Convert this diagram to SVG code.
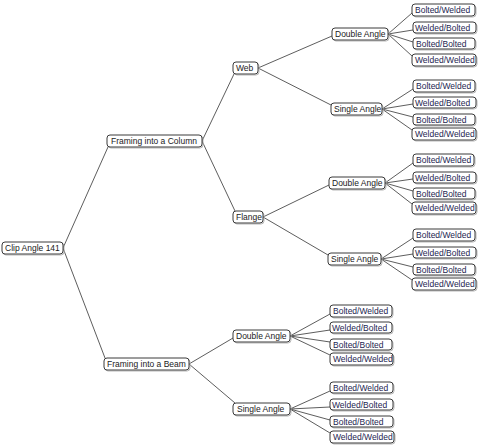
<svg xmlns="http://www.w3.org/2000/svg" width="480" height="447" viewBox="0 0 480 447">
<style>
.bx{fill:#fff;stroke:#3a3a3a;stroke-width:1}
.sh{fill:none;stroke:#b8b8b8;stroke-width:1}
.t{font-family:"Liberation Sans",Arial,sans-serif;font-size:8.5px;fill:#1a1a1a}
.lf .t{fill:#1c2550}
.c line{stroke:#333;stroke-width:0.8}
</style>
<rect width="480" height="447" fill="#fff"/>
<g class="c">
<line x1="63" y1="248" x2="108" y2="147"/>
<line x1="63" y1="248" x2="105" y2="358"/>
<line x1="202" y1="141" x2="234" y2="74"/>
<line x1="202" y1="141" x2="235" y2="211"/>
<line x1="258" y1="68" x2="332" y2="36"/>
<line x1="258" y1="68" x2="331" y2="105"/>
<line x1="263" y1="217" x2="329" y2="185"/>
<line x1="263" y1="217" x2="328" y2="255"/>
<line x1="189" y1="364" x2="233" y2="338"/>
<line x1="189" y1="364" x2="235" y2="403"/>
<line x1="388" y1="34" x2="412" y2="13"/>
<line x1="388" y1="34" x2="413" y2="30"/>
<line x1="388" y1="34" x2="413" y2="42"/>
<line x1="388" y1="34" x2="412" y2="56"/>
<line x1="382" y1="109" x2="413" y2="89"/>
<line x1="382" y1="109" x2="413" y2="104"/>
<line x1="382" y1="109" x2="413" y2="117"/>
<line x1="382" y1="109" x2="412" y2="130"/>
<line x1="385" y1="183" x2="413" y2="163"/>
<line x1="385" y1="183" x2="413" y2="179"/>
<line x1="385" y1="183" x2="413" y2="191"/>
<line x1="385" y1="183" x2="412" y2="204"/>
<line x1="381" y1="259" x2="413" y2="238"/>
<line x1="381" y1="259" x2="413" y2="254"/>
<line x1="381" y1="259" x2="413" y2="267"/>
<line x1="381" y1="259" x2="412" y2="280"/>
<line x1="290" y1="336" x2="330" y2="314"/>
<line x1="290" y1="336" x2="330" y2="330"/>
<line x1="290" y1="336" x2="330" y2="342"/>
<line x1="290" y1="336" x2="330" y2="355"/>
<line x1="290" y1="409" x2="330" y2="391"/>
<line x1="290" y1="409" x2="330" y2="407"/>
<line x1="290" y1="409" x2="330" y2="420"/>
<line x1="290" y1="409" x2="330" y2="433"/>
</g>
<g id="root"><rect class="sh" x="3" y="243" width="61" height="12" rx="3"/><rect class="bx" x="2" y="242" width="61" height="12" rx="3"/><text class="t" x="5" y="251">Clip Angle 141</text></g>
<g id="col"><rect class="sh" x="108" y="136" width="95" height="12" rx="3"/><rect class="bx" x="107" y="135" width="95" height="12" rx="3"/><text class="t" x="111" y="144">Framing into a Column</text></g>
<g id="beam"><rect class="sh" x="105" y="359" width="85" height="12" rx="3"/><rect class="bx" x="104" y="358" width="85" height="12" rx="3"/><text class="t" x="107" y="367">Framing into a Beam</text></g>
<g id="web"><rect class="sh" x="234" y="63" width="25" height="12" rx="3"/><rect class="bx" x="233" y="62" width="25" height="12" rx="3"/><text class="t" x="236" y="71">Web</text></g>
<g id="flange"><rect class="sh" x="234" y="212" width="30" height="12" rx="3"/><rect class="bx" x="233" y="211" width="30" height="12" rx="3"/><text class="t" x="236" y="220">Flange</text></g>
<g id="web-double"><rect class="sh" x="333" y="29" width="56" height="12" rx="3"/><rect class="bx" x="332" y="28" width="56" height="12" rx="3"/><text class="t" x="335" y="37">Double Angle</text></g>
<g id="web-single"><rect class="sh" x="332" y="104" width="51" height="12" rx="3"/><rect class="bx" x="331" y="103" width="51" height="12" rx="3"/><text class="t" x="334" y="112">Single Angle</text></g>
<g id="flange-double"><rect class="sh" x="330" y="178" width="56" height="12" rx="3"/><rect class="bx" x="329" y="177" width="56" height="12" rx="3"/><text class="t" x="332" y="186">Double Angle</text></g>
<g id="flange-single"><rect class="sh" x="329" y="254" width="53" height="12" rx="3"/><rect class="bx" x="328" y="253" width="53" height="12" rx="3"/><text class="t" x="331" y="262">Single Angle</text></g>
<g id="beam-double"><rect class="sh" x="234" y="331" width="57" height="12" rx="3"/><rect class="bx" x="233" y="330" width="57" height="12" rx="3"/><text class="t" x="236" y="339">Double Angle</text></g>
<g id="beam-single"><rect class="sh" x="234" y="404" width="57" height="12" rx="3"/><rect class="bx" x="233" y="403" width="57" height="12" rx="3"/><text class="t" x="237" y="412">Single Angle</text></g>
<g class="lf">
<g id="wd1"><rect class="sh" x="413" y="5" width="63" height="12" rx="3"/><rect class="bx" x="412" y="4" width="63" height="12" rx="3"/><text class="t" x="415" y="13">Bolted/Welded</text></g>
<g id="wd2"><rect class="sh" x="414" y="23" width="63" height="11" rx="3"/><rect class="bx" x="413" y="22" width="63" height="11" rx="3"/><text class="t" x="415" y="31">Welded/Bolted</text></g>
<g id="wd3"><rect class="sh" x="414" y="39" width="62" height="11" rx="3"/><rect class="bx" x="413" y="38" width="62" height="11" rx="3"/><text class="t" x="416" y="47">Bolted/Bolted</text></g>
<g id="wd4"><rect class="sh" x="413" y="55" width="64" height="12" rx="3"/><rect class="bx" x="412" y="54" width="64" height="12" rx="3"/><text class="t" x="415" y="63">Welded/Welded</text></g>
<g id="ws1"><rect class="sh" x="414" y="81" width="62" height="12" rx="3"/><rect class="bx" x="413" y="80" width="62" height="12" rx="3"/><text class="t" x="416" y="89">Bolted/Welded</text></g>
<g id="ws2"><rect class="sh" x="414" y="98" width="63" height="11" rx="3"/><rect class="bx" x="413" y="97" width="63" height="11" rx="3"/><text class="t" x="415" y="106">Welded/Bolted</text></g>
<g id="ws3"><rect class="sh" x="414" y="115" width="62" height="11" rx="3"/><rect class="bx" x="413" y="114" width="62" height="11" rx="3"/><text class="t" x="416" y="123">Bolted/Bolted</text></g>
<g id="ws4"><rect class="sh" x="413" y="129" width="64" height="12" rx="3"/><rect class="bx" x="412" y="128" width="64" height="12" rx="3"/><text class="t" x="415" y="137">Welded/Welded</text></g>
<g id="fd1"><rect class="sh" x="414" y="155" width="61" height="12" rx="3"/><rect class="bx" x="413" y="154" width="61" height="12" rx="3"/><text class="t" x="416" y="163">Bolted/Welded</text></g>
<g id="fd2"><rect class="sh" x="414" y="173" width="63" height="11" rx="3"/><rect class="bx" x="413" y="172" width="63" height="11" rx="3"/><text class="t" x="415" y="181">Welded/Bolted</text></g>
<g id="fd3"><rect class="sh" x="414" y="189" width="62" height="11" rx="3"/><rect class="bx" x="413" y="188" width="62" height="11" rx="3"/><text class="t" x="416" y="197">Bolted/Bolted</text></g>
<g id="fd4"><rect class="sh" x="413" y="203" width="64" height="12" rx="3"/><rect class="bx" x="412" y="202" width="64" height="12" rx="3"/><text class="t" x="415" y="211">Welded/Welded</text></g>
<g id="fs1"><rect class="sh" x="414" y="230" width="62" height="12" rx="3"/><rect class="bx" x="413" y="229" width="62" height="12" rx="3"/><text class="t" x="416" y="238">Bolted/Welded</text></g>
<g id="fs2"><rect class="sh" x="414" y="248" width="63" height="11" rx="3"/><rect class="bx" x="413" y="247" width="63" height="11" rx="3"/><text class="t" x="415" y="256">Welded/Bolted</text></g>
<g id="fs3"><rect class="sh" x="414" y="265" width="62" height="11" rx="3"/><rect class="bx" x="413" y="264" width="62" height="11" rx="3"/><text class="t" x="416" y="273">Bolted/Bolted</text></g>
<g id="fs4"><rect class="sh" x="413" y="279" width="64" height="12" rx="3"/><rect class="bx" x="412" y="278" width="64" height="12" rx="3"/><text class="t" x="415" y="287">Welded/Welded</text></g>
<g id="bd1"><rect class="sh" x="331" y="306" width="62" height="12" rx="3"/><rect class="bx" x="330" y="305" width="62" height="12" rx="3"/><text class="t" x="333" y="314">Bolted/Welded</text></g>
<g id="bd2"><rect class="sh" x="331" y="323" width="62" height="11" rx="3"/><rect class="bx" x="330" y="322" width="62" height="11" rx="3"/><text class="t" x="332" y="331">Welded/Bolted</text></g>
<g id="bd3"><rect class="sh" x="331" y="340" width="62" height="11" rx="3"/><rect class="bx" x="330" y="339" width="62" height="11" rx="3"/><text class="t" x="333" y="348">Bolted/Bolted</text></g>
<g id="bd4"><rect class="sh" x="331" y="354" width="63" height="12" rx="3"/><rect class="bx" x="330" y="353" width="63" height="12" rx="3"/><text class="t" x="333" y="362">Welded/Welded</text></g>
<g id="bs1"><rect class="sh" x="331" y="383" width="63" height="11" rx="3"/><rect class="bx" x="330" y="382" width="63" height="11" rx="3"/><text class="t" x="333" y="391">Bolted/Welded</text></g>
<g id="bs2"><rect class="sh" x="331" y="400" width="63" height="11" rx="3"/><rect class="bx" x="330" y="399" width="63" height="11" rx="3"/><text class="t" x="332" y="408">Welded/Bolted</text></g>
<g id="bs3"><rect class="sh" x="331" y="417" width="63" height="11" rx="3"/><rect class="bx" x="330" y="416" width="63" height="11" rx="3"/><text class="t" x="333" y="425">Bolted/Bolted</text></g>
<g id="bs4"><rect class="sh" x="331" y="432" width="64" height="12" rx="3"/><rect class="bx" x="330" y="431" width="64" height="12" rx="3"/><text class="t" x="333" y="440">Welded/Welded</text></g>
</g>
</svg>
